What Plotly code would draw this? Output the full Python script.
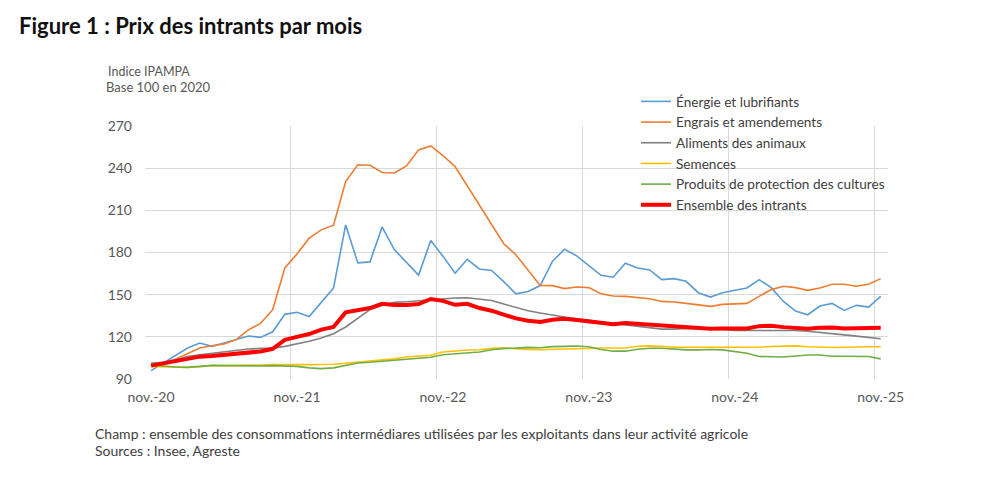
import plotly.graph_objects as go

months = list(range(61))  # nov.-20 .. nov.-25, monthly
tick_pos = [0, 12, 24, 36, 48, 60]
tick_labels = ["nov.-20", "nov.-21", "nov.-22", "nov.-23", "nov.-24", "nov.-25"]
grid_pos = [-0.5, 11.5, 23.5, 35.5, 47.5, 59.5]

energie = [96, 101.4, 107, 112, 115.6, 113.2, 115.6, 118, 120.6, 119.6, 123.6, 136, 137.5, 134.5, 144.5, 154.7,
           199.6, 172.6, 173.3, 198.2, 182.1, 173.1, 163.9, 188.5, 177.4, 165.3, 175.2, 168.3, 167.2, 159.3, 150.6,
           152.2, 156.5, 173.6, 182.3, 177.6, 171, 163.8, 162.4, 172.4, 169, 167.6, 160.7, 161.4, 159.5, 151.4, 148.3,
           151.4, 153.2, 154.8, 160.7, 155, 145.2, 138.3, 135.7, 141.9, 143.8, 138.8, 142.4, 141.2, 148.8]
engrais = [100, 101, 104, 108, 112, 113.7, 114.9, 118, 125, 129.6, 139.3, 169, 179, 190.2, 196.1, 199.4,
           230.5, 242.4, 242.1, 236.9, 236.6, 241.6, 253, 255.8, 249, 241.1, 227.2, 213.2, 199.5, 186.2, 178.4,
           167.8, 156.6, 156.4, 154.3, 155.5, 155, 150.7, 149, 148.8, 147.9, 147.1, 145.2, 144.8, 143.8, 142.9, 141.7,
           143.1, 143.2, 143.8, 148.8, 153.6, 156, 155, 153.1, 154.8, 157.4, 157.4, 156, 157.4, 161.4]
aliments = [101.2, 101.9, 103.6, 106, 107.3, 108.4, 109.6, 110.6, 111.3, 111.8, 112, 113.2, 114.8, 116.8, 119.1, 122.2,
            127, 133.3, 139.3, 142.4, 144.5, 145, 145.7, 146.4, 147.1, 147.6, 147.8, 146.9, 145.9, 143.3, 140.9,
            138.6, 136.9, 135.3, 134.1, 132.9, 132, 130.5, 129.5, 128.6, 127.6, 126.4, 125.5, 125.5, 126, 125.7, 125.5,
            125.2, 124.5, 124.5, 124.5, 124.8, 124.8, 124.5, 124, 123.3, 122.4, 121.4, 120.5, 119.5, 118.6]
semences = [99, 98.8, 98.3, 98.3, 98.8, 99.5, 99.5, 99.5, 99.7, 99.9, 100.2, 100.4, 100.2, 100.2, 100.3, 100.5,
            101.2, 101.9, 102.6, 103.3, 104.3, 105.7, 106.4, 106.9, 109.2, 110.1, 110.6, 110.8, 111.8, 112, 111.8,
            111.1, 110.8, 111.3, 111.3, 111.5, 112, 112.1, 112.1, 112.1, 113.3, 113.6, 113.3, 112.6, 112.6, 112.6, 112.6,
            112.6, 112.5, 112.4, 112.6, 113.1, 113.6, 113.6, 112.9, 112.4, 112.4, 112.6, 112.9, 112.9, 112.9]
protection = [100, 99, 98.5, 98.3, 99, 99.7, 99.5, 99.3, 99, 99.3, 99.5, 99.5, 99, 97.9, 97.4, 97.9,
              99.8, 101.4, 101.9, 102.6, 103.3, 104.3, 105.2, 105.5, 107.3, 108, 108.5, 109.2, 110.8, 111.8, 112,
              112.5, 112.2, 113, 113.2, 113.5, 113, 111, 109.8, 109.8, 111.2, 111.9, 111.9, 111.2, 110.7, 110.7, 111,
              110.7, 109.3, 108.3, 106, 105.7, 105.7, 106.4, 107.1, 107.1, 106.2, 106.2, 106.2, 106, 104.3]
ensemble = [99.5, 101, 102.6, 104.5, 105.9, 106.3, 107.3, 108.2, 109.2, 109.6, 111.5, 117.9, 120, 122, 125.1, 127,
            137.4, 138.6, 140.5, 143.5, 142.6, 142.6, 143.3, 146.9, 145.6, 142.8, 143.5, 140.5, 138.6, 135.8, 133.1,
            131.5, 130.5, 132.2, 132.9, 132, 131, 129.8, 129, 129.8, 129.3, 128.8, 127.6, 127.4, 127.1, 126.4, 125.7,
            126, 126.1, 126, 127.6, 127.9, 126.9, 126.2, 125.7, 126.4, 126.7, 126, 126, 125.7, 126.4]

series = [
    ("Énergie et lubrifiants", energie, "#5B9BD5", 1.6),
    ("Engrais et amendements", engrais, "#ED7D31", 1.6),
    ("Aliments des animaux", aliments, "#808080", 1.6),
    ("Semences", semences, "#FFC000", 1.6),
    ("Produits de protection des cultures", protection, "#70AD47", 1.6),
    ("Ensemble des intrants", ensemble, "#FF0000", 4),
]

fig = go.Figure()
for name, vals, color, w in series:
    fig.add_trace(go.Scatter(x=months, y=vals, name=name, mode="lines",
                             line=dict(color=color, width=w)))

font_fam = "Lato, 'Open Sans', sans-serif"
PW, PH, PB = 743.0, 253.3, 379.3


def px(x):
    return (x - 145) / PW


def py(y):
    return (PB - y) / PH


fig.update_layout(
    width=1000, height=481,
    margin=dict(l=145, r=112, t=126, b=102),
    paper_bgcolor="white", plot_bgcolor="white",
    font=dict(family=font_fam, size=14, color="#595959"),
    showlegend=True,
    legend=dict(x=px(636), y=py(86), xanchor="left", yanchor="top",
                font=dict(size=13.6, color="#404040"), bgcolor="rgba(0,0,0,0)",
                tracegroupgap=0, itemwidth=30),
    xaxis=dict(range=[-0.5, 60.6], tickmode="array", tickvals=tick_pos, ticktext=tick_labels,
               showgrid=False, zeroline=False, showline=False, ticks="", ticklabelstandoff=8,
               tickfont=dict(size=14, color="#595959"),
               minor=dict(tickmode="array", tickvals=grid_pos, showgrid=True,
                          gridcolor="#D9D9D9", gridwidth=1, ticks="")),
    yaxis=dict(range=[90, 270], tickmode="array", tickvals=[90, 120, 150, 180, 210, 240, 270],
               showgrid=True, gridcolor="#D9D9D9", gridwidth=1, zeroline=False, showline=False,
               ticks="", ticklabelstandoff=12, tickfont=dict(size=14, color="#595959")),
    annotations=[
        dict(text="<b>Figure 1 : Prix des intrants par mois</b>", xref="paper", yref="paper",
             x=px(17), y=py(25), xanchor="left", yanchor="middle", showarrow=False,
             font=dict(size=22, color="#111111", family=font_fam)),
        dict(text="Indice IPAMPA", xref="paper", yref="paper",
             x=px(149), y=py(71), xanchor="center", yanchor="middle", showarrow=False,
             font=dict(size=12.5, color="#595959")),
        dict(text="Base 100 en 2020", xref="paper", yref="paper",
             x=px(158), y=py(87), xanchor="center", yanchor="middle", showarrow=False,
             font=dict(size=13, color="#595959")),
        dict(text="Champ : ensemble des consommations intermédiares utilisées par les exploitants dans leur activité agricole",
             xref="paper", yref="paper", x=px(93), y=py(434), xanchor="left", yanchor="middle",
             showarrow=False, font=dict(size=14, color="#404040")),
        dict(text="Sources : Insee, Agreste",
             xref="paper", yref="paper", x=px(93), y=py(451), xanchor="left", yanchor="middle",
             showarrow=False, font=dict(size=14, color="#404040")),
    ],
)

fig.write_html("out.html")
